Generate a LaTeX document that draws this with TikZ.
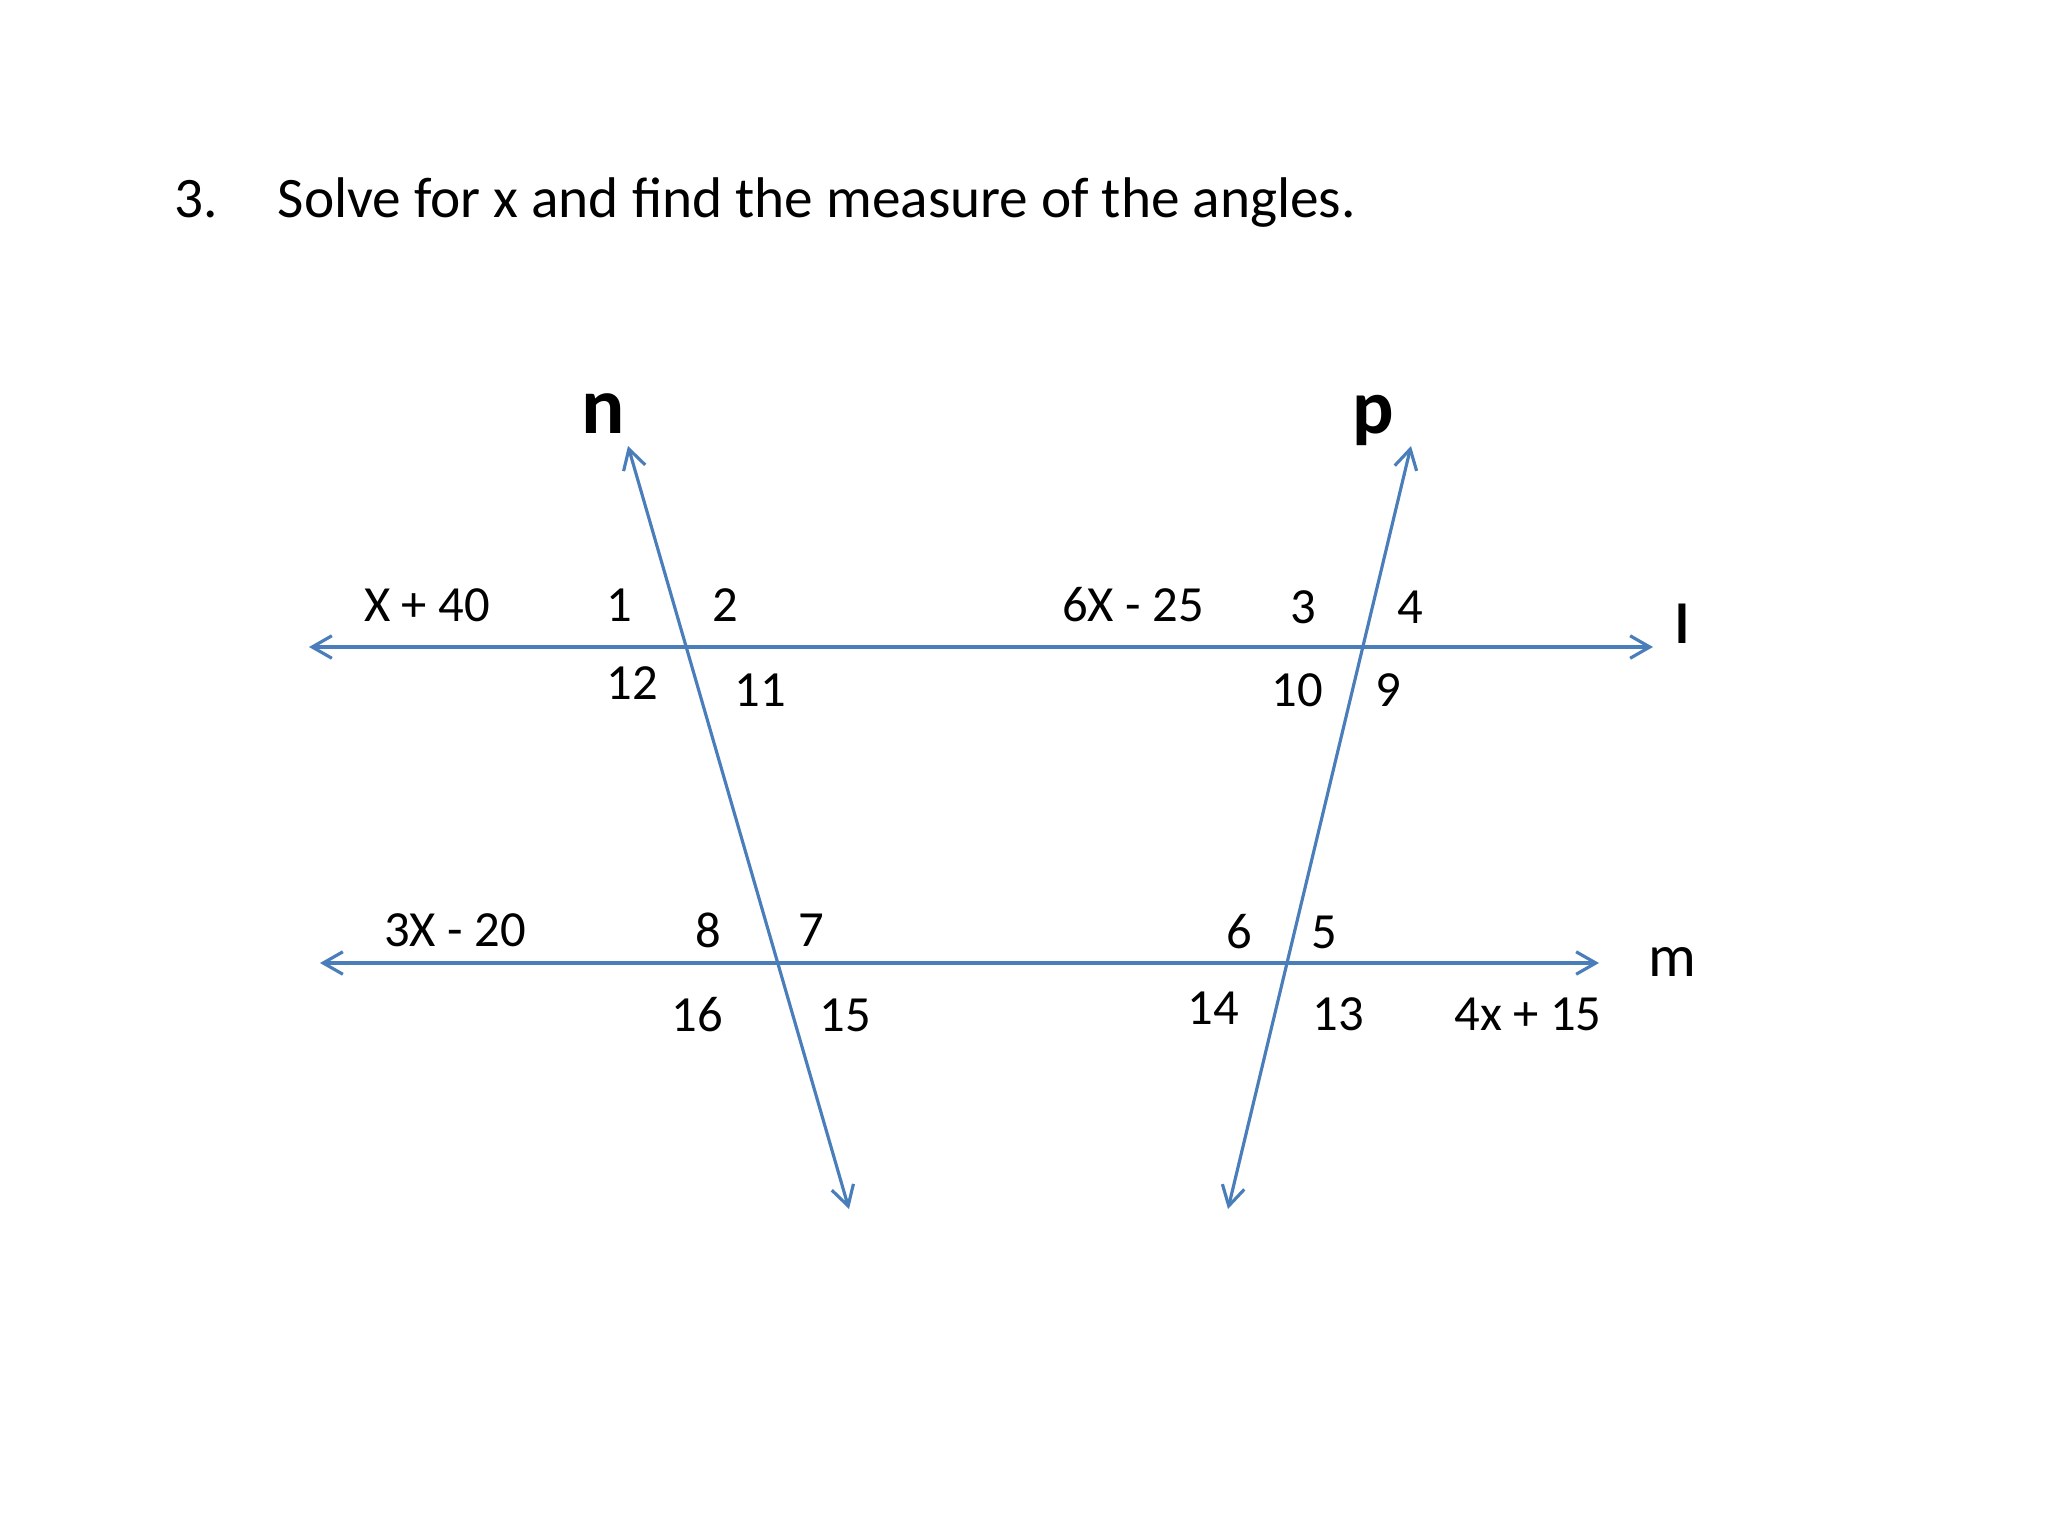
\documentclass[tikz,border=0pt]{standalone}
\usepackage{fontspec}
\setmainfont{Carlito}
\usetikzlibrary{arrows.meta}
\definecolor{lineblue}{HTML}{4A7EBB}
\tikzset{
  ray/.style={draw=lineblue, line width=0.9pt, {Straight Barb[length=5.6pt,width=6.4pt,line width=0.9pt]}-{Straight Barb[length=5.6pt,width=6.4pt,line width=0.9pt]}},
  num/.style={inner sep=0pt, font=\fontsize{14.4pt}{16pt}\selectfont, text=black},
  linename/.style={inner sep=0pt, text=black},
  titletext/.style={inner sep=0pt, anchor=base west, font=\fontsize{16.3pt}{19pt}\selectfont},
}
\begin{document}
\begin{tikzpicture}[x=0.01cm, y=-0.01cm]
\useasboundingbox[fill=white] (0,0) rectangle (2048,1536);
% title
\node[titletext] (qnum) at (174,217) {3.};
\node[titletext] (title) at (277,217) {Solve for x and find the measure of the angles.};
% end points of the four lines
\coordinate (lL) at (309,647);
\coordinate (lR) at (1653,647);
\coordinate (mL) at (320,963);
\coordinate (mR) at (1599,963);
\coordinate (nT) at (628,446);
\coordinate (nB) at (849,1209);
\coordinate (pT) at (1411,446);
\coordinate (pB) at (1228,1209);
\draw[ray] (lL) -- (lR);
\draw[ray] (mL) -- (mR);
\draw[ray] (nT) -- (nB);
\draw[ray] (pB) -- (pT);
% line names
\node[linename, font=\fontsize{23pt}{26pt}\selectfont\bfseries] (nname) at (603,414) {n};
\node[linename, font=\fontsize{22pt}{26pt}\selectfont\bfseries] (pname) at (1373,420) {p};
\node[linename, font=\fontsize{16pt}{20pt}\selectfont\bfseries] (lname) at (1682,624) {l};
\node[linename, font=\fontsize{17pt}{20pt}\selectfont] (mname) at (1672,962) {m};
% expressions
\node[num] (e1) at (427,605) {X + 40};
\node[num] (e2) at (1133,605) {6X - 25};
\node[num] (e3) at (455,930) {3X - 20};
\node[num] (e4) at (1528,1014) {4x + 15};
% angle numbers
\node[num] (a1) at (619,605) {1};
\node[num] (a2) at (725,605) {2};
\node[num] (a3) at (1303,607) {3};
\node[num] (a4) at (1410,607) {4};
\node[num] (a12) at (632,683) {12};
\node[num] (a11) at (760,690) {11};
\node[num] (a10) at (1297,690) {10};
\node[num] (a9) at (1388,690) {9};
\node[num] (a8) at (708,930) {8};
\node[num] (a7) at (811,930) {7};
\node[num] (a6) at (1239,932) {6};
\node[num] (a5) at (1324,932) {5};
\node[num] (a16) at (697,1015) {16};
\node[num] (a15) at (845,1015) {15};
\node[num] (a14) at (1213,1008) {14};
\node[num] (a13) at (1338,1014) {13};
\end{tikzpicture}
\end{document}
